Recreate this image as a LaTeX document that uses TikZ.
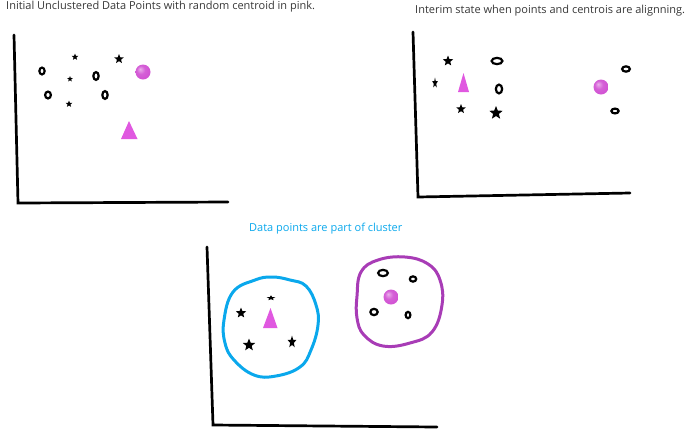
\documentclass[tikz,border=0pt]{standalone}
\usepackage{fontspec}
\setmainfont{Open Sans}
\usetikzlibrary{shapes.geometric}
\definecolor{centpink}{RGB}{224,88,224}
\definecolor{ballpink}{RGB}{208,78,210}
\definecolor{clblue}{RGB}{10,168,236}
\definecolor{clmag}{RGB}{168,60,182}
\definecolor{titlegray}{RGB}{55,55,55}
\pgfdeclareradialshading{pinkball}{\pgfpoint{-10bp}{10bp}}{color(0bp)=(ballpink!45!white); color(14bp)=(ballpink!90!white); color(32bp)=(ballpink); color(50bp)=(ballpink!70!black)}

\begin{document}
\begin{tikzpicture}[x=1pt,y=-1pt,
		axis/.style={line width=2.7pt,line cap=round},
		title/.style={anchor=west,inner sep=0pt,font=\fontsize{11}{13}\selectfont,text=titlegray},
		ring/.style 2 args={ellipse,draw,line width=2.2pt,inner sep=0pt,minimum width=#1-2.2pt,minimum height=#2-2.2pt},
		starpt/.style={star,star points=5,star point ratio=2.3,fill=black,inner sep=0pt,minimum size=#1},
		ball/.style={circle,inner sep=0pt,minimum size=15pt,shading=pinkball},
		cluster/.style={line width=3pt,smooth cycle,tension=0.7}]
		\useasboundingbox (0,0) rectangle (700,445);
		% panel 1: before clustering
		\node[title] (t_1) at (6,7) {Initial Unclustered Data Points with random centroid in pink.};
		\coordinate (o_1) at (18,203);
		\draw[axis] (14,35) -- (o_1) -- (228,202);
		\node[starpt=7] (s_11) at (75,57) {};
		\node[starpt=10] (s_12) at (119,59) {};
		\node[starpt=6] (s_13) at (70,79) {};
		\node[starpt=7] (s_14) at (69,104) {};
		\node[ring={7.5pt}{9pt}] (r_11) at (42,71) {};
		\node[ring={7.5pt}{10pt}] (r_12) at (96,76) {};
		\node[ring={8pt}{9pt}] (r_13) at (48,95) {};
		\node[ring={7.5pt}{10pt}] (r_14) at (105,95) {};
		\node[ball] (b_1) at (143,72) {};
		\fill[centpink] (129,121) -- (137.5,139) -- (121,139) -- cycle;
		% panel 2: interim
		\node[title] (t_2) at (415,11) {Interim state when points and centrois are alignning.};
		\coordinate (o_2) at (418,197);
		\draw[axis] (413,32) -- (o_2) -- (630,193);
		\node[starpt=11] (s_21) at (448,61) {};
		\node[starpt=11,xscale=0.55] (s_22) at (435,83) {};
		\node[starpt=10] (s_23) at (461,109) {};
		\node[starpt=14] (s_24) at (496,113) {};
		\node[ring={13pt}{8.5pt}] (r_21) at (497,61) {};
		\node[ring={8.5pt}{11pt}] (r_22) at (499,89) {};
		\node[ring={10pt}{7.5pt}] (r_23) at (626,69) {};
		\node[ring={9.5pt}{7pt}] (r_24) at (615,111) {};
		\node[ball] (b_2) at (601,87) {};
		\fill[centpink] (463.5,73) -- (469,92) -- (458,92) -- cycle;
		% panel 3: clusters
		\node[title,text=clblue] (t_3) at (249,229) {Data points are part of cluster};
		\coordinate (o_3) at (213,425);
		\draw[axis] (207,247) -- (o_3) -- (437,427);
		\draw[cluster,clblue] plot coordinates {(224,320) (233,292) (255,280) (272,277) (290,280) (306,286) (316,305) (318,325) (311,350) (300,367) (276,376) (254,375) (234,360) (225,343)};
		\draw[cluster,clmag] plot coordinates {(357,296) (361,272) (378,260) (405,257) (428,264) (440,280) (442,305) (432,332) (410,343) (383,346) (364,335) (357,318)};
		\node[starpt=9,yscale=0.6] (s_31) at (271,298) {};
		\node[starpt=11] (s_32) at (241,313) {};
		\node[starpt=13] (s_33) at (249,345) {};
		\node[starpt=13,xscale=0.7] (s_34) at (292,342) {};
		\fill[centpink] (270.5,308) -- (277.5,328) -- (263,328) -- cycle;
		\node[ring={12pt}{8.5pt}] (r_31) at (383,273) {};
		\node[ring={8.5pt}{7.5pt}] (r_32) at (413,279) {};
		\node[ring={9.5pt}{8.5pt}] (r_33) at (374,312) {};
		\node[ring={7pt}{8.5pt}] (r_34) at (408,315) {};
		\node[ball] (b_3) at (391,297) {};
	\end{tikzpicture}
\end{document}
